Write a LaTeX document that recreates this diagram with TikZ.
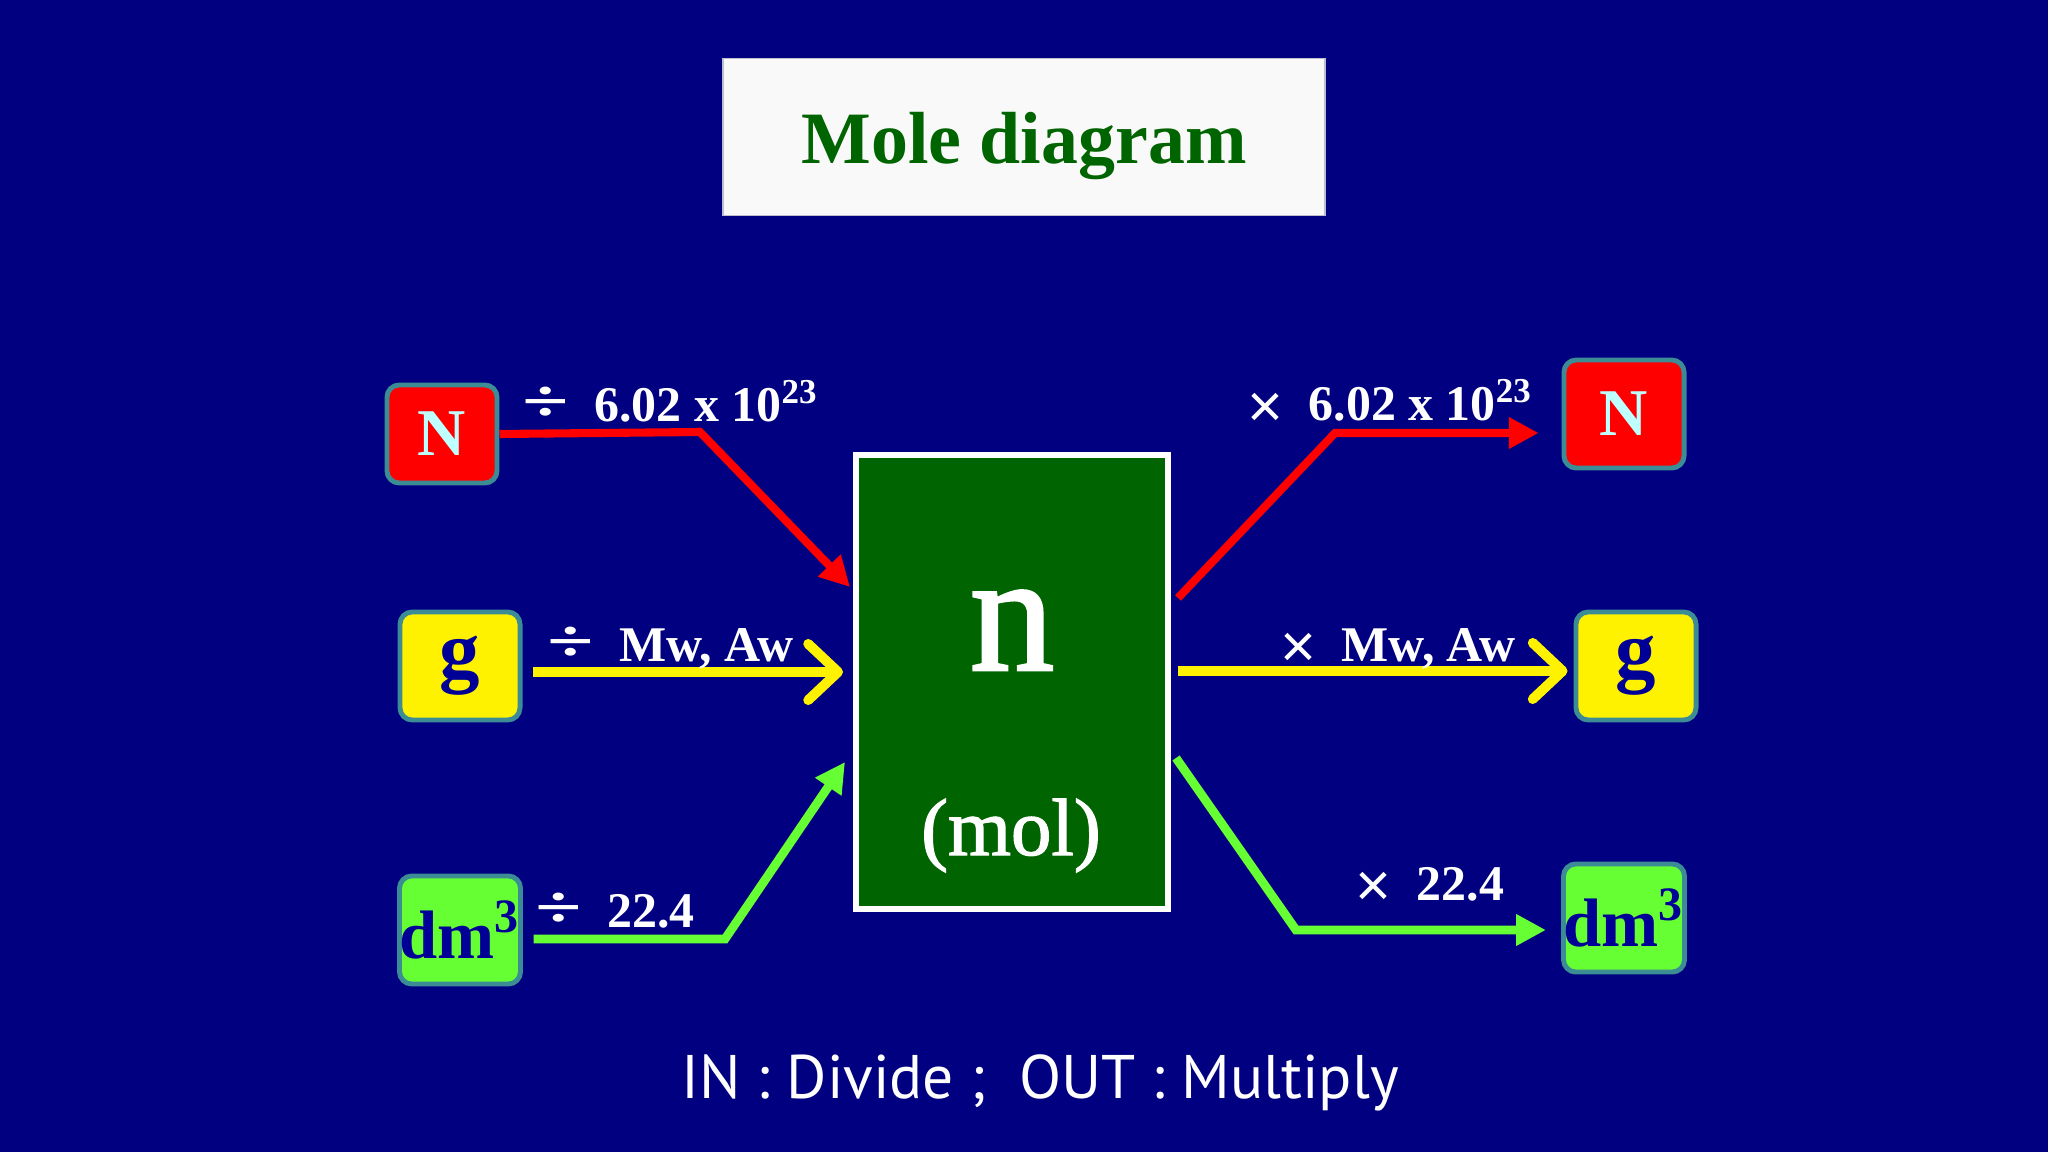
\documentclass[tikz,border=0pt]{standalone}
\usepackage{fontspec}
\setmainfont{Liberation Serif}
\newfontfamily\notefont{PT Sans}
\newfontfamily\symfont{Liberation Sans}
\newfontfamily\molfont[FakeBold=1.6]{Liberation Serif}
\usetikzlibrary{arrows.meta}
\definecolor{slidebg}{RGB}{0,0,128}
\definecolor{molgreen}{RGB}{0,100,0}
\definecolor{boxedge}{RGB}{60,140,150}
\definecolor{limegreen}{RGB}{102,255,51}
\definecolor{unitblue}{RGB}{0,0,150}
\definecolor{lightcyan}{RGB}{190,255,255}
\newcommand{\divsign}{\scalebox{1.7}[1.2]{÷}}
\newcommand{\mulsign}{\raisebox{-0.6mm}{\symfont\mdseries\fontsize{17.5}{17}\selectfont ×}}
\tikzset{
	unitbox/.style = {rounded corners=3.5pt, draw=boxedge, line width=1.4pt,
		minimum width=1.2cm, minimum height=1.08cm, inner sep=0pt},% boite d'unite
	unit_N/.style = {unitbox, fill=red, text=lightcyan,
		font=\fontsize{19}{20}\selectfont\bfseries},% nombre de particules
	unit_g/.style = {unitbox, fill=yellow, text=unitblue,
		font=\fontsize{23}{24}\selectfont\bfseries},% masse
	unit_dm/.style = {unitbox, fill=limegreen, text=unitblue,
		font=\fontsize{19.5}{20}\selectfont\bfseries},% volume
	factorlabel/.style = {anchor=base west, inner sep=0pt, text=white,
		font=\fontsize{14.2}{16}\selectfont\bfseries},
	redarrow/.style = {draw=red, line width=2.3pt,
		-{Triangle[length=8.5pt,width=8.5pt]}},
	yellowarrow/.style = {draw=yellow, line width=2.8pt,
		-{Straight Barb[length=8.5pt,width=16pt,round]}},
	greenarrow/.style = {draw=limegreen, line width=2.5pt,
		-{Triangle[length=8.5pt,width=8.5pt]}}
}
\begin{document}
\begin{tikzpicture}[x=0.01cm,y=-0.01cm]
	\fill[slidebg] (0,0) rectangle (2048,1152);
	\useasboundingbox (0,0) rectangle (2048,1152);
	% titre
	\node[fill=white!95!gray, draw=blue!15!gray!45, minimum width=6.02cm, minimum height=1.57cm,
		text height=0.6cm, text depth=0.08cm, text=molgreen,
		font=\fontsize{21}{24}\selectfont\bfseries] (title) at (1024,137) {Mole diagram};
	% boite centrale
	\node[fill=molgreen, draw=white, line width=1.7pt, minimum width=3.12cm,
		minimum height=4.53cm] (mol) at (1012,682) {};
	\node[anchor=base, text=white, font=\molfont\fontsize{48}{50}\selectfont] (nsym) at (1012,670) {n};
	\node[anchor=base, text=white, font=\molfont\fontsize{23}{26}\selectfont] (molunit) at (1011,855) {(mol)};
	% unites
	\node[unit_N, minimum width=1.1cm, minimum height=0.98cm] (lN) at (442,434) {N};
	\node[unit_g] (lg) at (460,666) {g};
	\node[unit_dm] (ldm) at (460,930) {dm\textsuperscript{3}};
	\node[unit_N] (rN) at (1624,414) {N};
	\node[unit_g] (rg) at (1636,666) {g};
	\node[unit_dm] (rdm) at (1624,918) {dm\textsuperscript{3}};
	% coudes
	\coordinate (lNbend) at (700,432);
	\coordinate (inN) at (850,587);
	\coordinate (ing) at (843,672);
	\coordinate (ldmbend) at (725,939);
	\coordinate (indm) at (845,762);
	\coordinate (outN) at (1178,598);
	\coordinate (rNbend) at (1335,433);
	\coordinate (outg) at (1178,671);
	\coordinate (outdm) at (1176,758);
	\coordinate (rdmbend) at (1296,930);
	% entrees
	\draw[redarrow] (lN.east) -- (lNbend) -- (inN);
	\draw[yellowarrow, shorten <=3pt] (lg.east |- ing) -- (ing);
	\draw[greenarrow, shorten <=3pt] (ldm.east |- ldmbend) -- (ldmbend) -- (indm);
	% sorties
	\draw[redarrow, shorten >=6.5pt] (outN) -- (rNbend) -- (rNbend -| rN.west);
	\draw[yellowarrow, shorten >=1.7pt] (outg) -- (outg -| rg.west);
	\draw[greenarrow, shorten >=4.3pt] (outdm) -- (rdmbend) -- (rdmbend -| rdm.west);
	% facteurs
	\node[factorlabel] (lNlab) at (522,422) {\divsign\ \ 6.02 x 10\textsuperscript{23}};
	\node[factorlabel] (lglab) at (547,662) {\divsign\ \ Mw, Aw};
	\node[factorlabel] (ldmlab) at (535,927) {\divsign\ \ 22.4};
	\node[factorlabel] (rNlab) at (1247,421) {\mulsign\ \ 6.02 x 10\textsuperscript{23}};
	\node[factorlabel] (rglab) at (1280,661) {\mulsign\ \ Mw, Aw};
	\node[factorlabel] (rdmlab) at (1355,900) {\mulsign\ \ 22.4};
	% note
	\node[anchor=base, text=white, font=\notefont\fontsize{17.5}{20}\selectfont] (note)
		at (1040,1098) {IN : Divide ;\ \ OUT : Multiply};
\end{tikzpicture}
\end{document}
